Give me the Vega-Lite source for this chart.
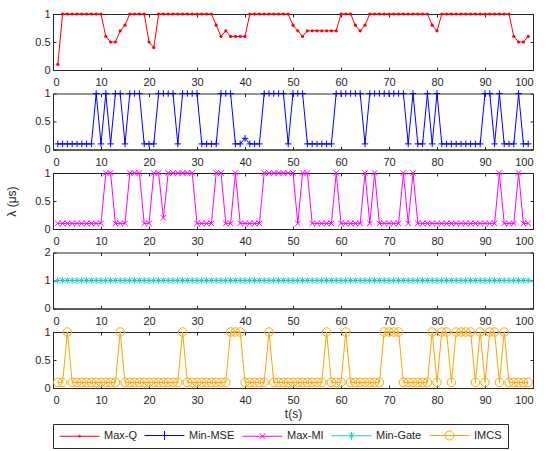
{
  "$schema": "https://vega.github.io/schema/vega-lite/v6.json",
  "padding": {"left": 5, "top": 7, "right": 8, "bottom": 2},
  "data": {
    "values": [
      {"t": 1, "Max-Q": 0.1, "Min-MSE": 0.1, "Max-MI": 0.1, "Min-Gate": 1, "IMCS": 0.1},
      {"t": 2, "Max-Q": 1, "Min-MSE": 0.1, "Max-MI": 0.1, "Min-Gate": 1, "IMCS": 0.1},
      {"t": 3, "Max-Q": 1, "Min-MSE": 0.1, "Max-MI": 0.1, "Min-Gate": 1, "IMCS": 1},
      {"t": 4, "Max-Q": 1, "Min-MSE": 0.1, "Max-MI": 0.1, "Min-Gate": 1, "IMCS": 0.1},
      {"t": 5, "Max-Q": 1, "Min-MSE": 0.1, "Max-MI": 0.1, "Min-Gate": 1, "IMCS": 0.1},
      {"t": 6, "Max-Q": 1, "Min-MSE": 0.1, "Max-MI": 0.1, "Min-Gate": 1, "IMCS": 0.1},
      {"t": 7, "Max-Q": 1, "Min-MSE": 0.1, "Max-MI": 0.1, "Min-Gate": 1, "IMCS": 0.1},
      {"t": 8, "Max-Q": 1, "Min-MSE": 0.1, "Max-MI": 0.1, "Min-Gate": 1, "IMCS": 0.1},
      {"t": 9, "Max-Q": 1, "Min-MSE": 1, "Max-MI": 0.1, "Min-Gate": 1, "IMCS": 0.1},
      {"t": 10, "Max-Q": 1, "Min-MSE": 0.1, "Max-MI": 0.1, "Min-Gate": 1, "IMCS": 0.1},
      {"t": 11, "Max-Q": 0.6, "Min-MSE": 1, "Max-MI": 1, "Min-Gate": 1, "IMCS": 0.1},
      {"t": 12, "Max-Q": 0.5, "Min-MSE": 0.1, "Max-MI": 1, "Min-Gate": 1, "IMCS": 0.1},
      {"t": 13, "Max-Q": 0.5, "Min-MSE": 1, "Max-MI": 0.1, "Min-Gate": 1, "IMCS": 0.1},
      {"t": 14, "Max-Q": 0.7, "Min-MSE": 1, "Max-MI": 0.1, "Min-Gate": 1, "IMCS": 1},
      {"t": 15, "Max-Q": 0.8, "Min-MSE": 0.1, "Max-MI": 0.1, "Min-Gate": 1, "IMCS": 0.1},
      {"t": 16, "Max-Q": 1, "Min-MSE": 1, "Max-MI": 1, "Min-Gate": 1, "IMCS": 0.1},
      {"t": 17, "Max-Q": 1, "Min-MSE": 1, "Max-MI": 1, "Min-Gate": 1, "IMCS": 0.1},
      {"t": 18, "Max-Q": 1, "Min-MSE": 1, "Max-MI": 1, "Min-Gate": 1, "IMCS": 0.1},
      {"t": 19, "Max-Q": 1, "Min-MSE": 0.1, "Max-MI": 0.1, "Min-Gate": 1, "IMCS": 0.1},
      {"t": 20, "Max-Q": 0.5, "Min-MSE": 0.1, "Max-MI": 0.1, "Min-Gate": 1, "IMCS": 0.1},
      {"t": 21, "Max-Q": 0.4, "Min-MSE": 0.1, "Max-MI": 1, "Min-Gate": 1, "IMCS": 0.1},
      {"t": 22, "Max-Q": 1, "Min-MSE": 1, "Max-MI": 1, "Min-Gate": 1, "IMCS": 0.1},
      {"t": 23, "Max-Q": 1, "Min-MSE": 1, "Max-MI": 0.2, "Min-Gate": 1, "IMCS": 0.1},
      {"t": 24, "Max-Q": 1, "Min-MSE": 1, "Max-MI": 1, "Min-Gate": 1, "IMCS": 0.1},
      {"t": 25, "Max-Q": 1, "Min-MSE": 1, "Max-MI": 1, "Min-Gate": 1, "IMCS": 0.1},
      {"t": 26, "Max-Q": 1, "Min-MSE": 0.1, "Max-MI": 1, "Min-Gate": 1, "IMCS": 0.1},
      {"t": 27, "Max-Q": 1, "Min-MSE": 1, "Max-MI": 1, "Min-Gate": 1, "IMCS": 1},
      {"t": 28, "Max-Q": 1, "Min-MSE": 1, "Max-MI": 1, "Min-Gate": 1, "IMCS": 0.1},
      {"t": 29, "Max-Q": 1, "Min-MSE": 1, "Max-MI": 1, "Min-Gate": 1, "IMCS": 0.1},
      {"t": 30, "Max-Q": 1, "Min-MSE": 1, "Max-MI": 0.1, "Min-Gate": 1, "IMCS": 0.1},
      {"t": 31, "Max-Q": 1, "Min-MSE": 0.1, "Max-MI": 0.1, "Min-Gate": 1, "IMCS": 0.1},
      {"t": 32, "Max-Q": 1, "Min-MSE": 0.1, "Max-MI": 0.1, "Min-Gate": 1, "IMCS": 0.1},
      {"t": 33, "Max-Q": 1, "Min-MSE": 0.1, "Max-MI": 0.1, "Min-Gate": 1, "IMCS": 0.1},
      {"t": 34, "Max-Q": 0.8, "Min-MSE": 0.1, "Max-MI": 1, "Min-Gate": 1, "IMCS": 0.1},
      {"t": 35, "Max-Q": 0.6, "Min-MSE": 1, "Max-MI": 1, "Min-Gate": 1, "IMCS": 0.1},
      {"t": 36, "Max-Q": 0.7, "Min-MSE": 1, "Max-MI": 0.1, "Min-Gate": 1, "IMCS": 0.1},
      {"t": 37, "Max-Q": 0.6, "Min-MSE": 1, "Max-MI": 0.1, "Min-Gate": 1, "IMCS": 1},
      {"t": 38, "Max-Q": 0.6, "Min-MSE": 0.1, "Max-MI": 1, "Min-Gate": 1, "IMCS": 1},
      {"t": 39, "Max-Q": 0.6, "Min-MSE": 0.1, "Max-MI": 0.1, "Min-Gate": 1, "IMCS": 1},
      {"t": 40, "Max-Q": 0.6, "Min-MSE": 0.2, "Max-MI": 0.1, "Min-Gate": 1, "IMCS": 0.1},
      {"t": 41, "Max-Q": 1, "Min-MSE": 0.1, "Max-MI": 0.1, "Min-Gate": 1, "IMCS": 0.1},
      {"t": 42, "Max-Q": 1, "Min-MSE": 0.1, "Max-MI": 0.1, "Min-Gate": 1, "IMCS": 0.1},
      {"t": 43, "Max-Q": 1, "Min-MSE": 0.1, "Max-MI": 0.1, "Min-Gate": 1, "IMCS": 0.1},
      {"t": 44, "Max-Q": 1, "Min-MSE": 1, "Max-MI": 1, "Min-Gate": 1, "IMCS": 0.1},
      {"t": 45, "Max-Q": 1, "Min-MSE": 1, "Max-MI": 1, "Min-Gate": 1, "IMCS": 1},
      {"t": 46, "Max-Q": 1, "Min-MSE": 1, "Max-MI": 1, "Min-Gate": 1, "IMCS": 0.1},
      {"t": 47, "Max-Q": 1, "Min-MSE": 1, "Max-MI": 1, "Min-Gate": 1, "IMCS": 0.1},
      {"t": 48, "Max-Q": 1, "Min-MSE": 1, "Max-MI": 1, "Min-Gate": 1, "IMCS": 0.1},
      {"t": 49, "Max-Q": 1, "Min-MSE": 0.1, "Max-MI": 1, "Min-Gate": 1, "IMCS": 0.1},
      {"t": 50, "Max-Q": 0.8, "Min-MSE": 1, "Max-MI": 1, "Min-Gate": 1, "IMCS": 0.1},
      {"t": 51, "Max-Q": 0.7, "Min-MSE": 1, "Max-MI": 0.1, "Min-Gate": 1, "IMCS": 0.1},
      {"t": 52, "Max-Q": 0.6, "Min-MSE": 1, "Max-MI": 1, "Min-Gate": 1, "IMCS": 0.1},
      {"t": 53, "Max-Q": 0.7, "Min-MSE": 0.1, "Max-MI": 1, "Min-Gate": 1, "IMCS": 0.1},
      {"t": 54, "Max-Q": 0.7, "Min-MSE": 0.1, "Max-MI": 0.1, "Min-Gate": 1, "IMCS": 0.1},
      {"t": 55, "Max-Q": 0.7, "Min-MSE": 0.1, "Max-MI": 0.1, "Min-Gate": 1, "IMCS": 0.1},
      {"t": 56, "Max-Q": 0.7, "Min-MSE": 0.1, "Max-MI": 0.1, "Min-Gate": 1, "IMCS": 0.1},
      {"t": 57, "Max-Q": 0.7, "Min-MSE": 0.1, "Max-MI": 0.1, "Min-Gate": 1, "IMCS": 1},
      {"t": 58, "Max-Q": 0.7, "Min-MSE": 0.1, "Max-MI": 0.1, "Min-Gate": 1, "IMCS": 0.1},
      {"t": 59, "Max-Q": 0.7, "Min-MSE": 1, "Max-MI": 1, "Min-Gate": 1, "IMCS": 0.1},
      {"t": 60, "Max-Q": 1, "Min-MSE": 1, "Max-MI": 0.1, "Min-Gate": 1, "IMCS": 0.1},
      {"t": 61, "Max-Q": 1, "Min-MSE": 1, "Max-MI": 0.1, "Min-Gate": 1, "IMCS": 1},
      {"t": 62, "Max-Q": 1, "Min-MSE": 1, "Max-MI": 0.1, "Min-Gate": 1, "IMCS": 0.1},
      {"t": 63, "Max-Q": 0.8, "Min-MSE": 1, "Max-MI": 0.1, "Min-Gate": 1, "IMCS": 0.1},
      {"t": 64, "Max-Q": 0.7, "Min-MSE": 1, "Max-MI": 0.1, "Min-Gate": 1, "IMCS": 0.1},
      {"t": 65, "Max-Q": 0.8, "Min-MSE": 0.1, "Max-MI": 1, "Min-Gate": 1, "IMCS": 0.1},
      {"t": 66, "Max-Q": 1, "Min-MSE": 1, "Max-MI": 0.1, "Min-Gate": 1, "IMCS": 0.1},
      {"t": 67, "Max-Q": 1, "Min-MSE": 1, "Max-MI": 1, "Min-Gate": 1, "IMCS": 0.1},
      {"t": 68, "Max-Q": 1, "Min-MSE": 1, "Max-MI": 0.1, "Min-Gate": 1, "IMCS": 0.1},
      {"t": 69, "Max-Q": 1, "Min-MSE": 1, "Max-MI": 0.1, "Min-Gate": 1, "IMCS": 1},
      {"t": 70, "Max-Q": 1, "Min-MSE": 1, "Max-MI": 0.1, "Min-Gate": 1, "IMCS": 1},
      {"t": 71, "Max-Q": 1, "Min-MSE": 1, "Max-MI": 0.1, "Min-Gate": 1, "IMCS": 1},
      {"t": 72, "Max-Q": 1, "Min-MSE": 1, "Max-MI": 0.1, "Min-Gate": 1, "IMCS": 1},
      {"t": 73, "Max-Q": 1, "Min-MSE": 1, "Max-MI": 1, "Min-Gate": 1, "IMCS": 0.1},
      {"t": 74, "Max-Q": 1, "Min-MSE": 0.1, "Max-MI": 0.1, "Min-Gate": 1, "IMCS": 0.1},
      {"t": 75, "Max-Q": 1, "Min-MSE": 1, "Max-MI": 1, "Min-Gate": 1, "IMCS": 0.1},
      {"t": 76, "Max-Q": 1, "Min-MSE": 0.1, "Max-MI": 0.1, "Min-Gate": 1, "IMCS": 0.1},
      {"t": 77, "Max-Q": 1, "Min-MSE": 0.1, "Max-MI": 0.1, "Min-Gate": 1, "IMCS": 0.1},
      {"t": 78, "Max-Q": 1, "Min-MSE": 1, "Max-MI": 0.1, "Min-Gate": 1, "IMCS": 0.1},
      {"t": 79, "Max-Q": 0.8, "Min-MSE": 0.1, "Max-MI": 0.1, "Min-Gate": 1, "IMCS": 1},
      {"t": 80, "Max-Q": 0.7, "Min-MSE": 1, "Max-MI": 0.1, "Min-Gate": 1, "IMCS": 0.1},
      {"t": 81, "Max-Q": 1, "Min-MSE": 0.1, "Max-MI": 0.1, "Min-Gate": 1, "IMCS": 1},
      {"t": 82, "Max-Q": 1, "Min-MSE": 0.1, "Max-MI": 0.1, "Min-Gate": 1, "IMCS": 1},
      {"t": 83, "Max-Q": 1, "Min-MSE": 0.1, "Max-MI": 0.1, "Min-Gate": 1, "IMCS": 0.1},
      {"t": 84, "Max-Q": 1, "Min-MSE": 0.1, "Max-MI": 0.1, "Min-Gate": 1, "IMCS": 1},
      {"t": 85, "Max-Q": 1, "Min-MSE": 0.1, "Max-MI": 0.1, "Min-Gate": 1, "IMCS": 1},
      {"t": 86, "Max-Q": 1, "Min-MSE": 0.1, "Max-MI": 0.1, "Min-Gate": 1, "IMCS": 1},
      {"t": 87, "Max-Q": 1, "Min-MSE": 0.1, "Max-MI": 0.1, "Min-Gate": 1, "IMCS": 1},
      {"t": 88, "Max-Q": 1, "Min-MSE": 0.1, "Max-MI": 0.1, "Min-Gate": 1, "IMCS": 0.1},
      {"t": 89, "Max-Q": 1, "Min-MSE": 0.1, "Max-MI": 0.1, "Min-Gate": 1, "IMCS": 1},
      {"t": 90, "Max-Q": 1, "Min-MSE": 1, "Max-MI": 0.1, "Min-Gate": 1, "IMCS": 0.1},
      {"t": 91, "Max-Q": 1, "Min-MSE": 1, "Max-MI": 0.1, "Min-Gate": 1, "IMCS": 1},
      {"t": 92, "Max-Q": 1, "Min-MSE": 0.1, "Max-MI": 0.1, "Min-Gate": 1, "IMCS": 1},
      {"t": 93, "Max-Q": 1, "Min-MSE": 1, "Max-MI": 1, "Min-Gate": 1, "IMCS": 0.1},
      {"t": 94, "Max-Q": 1, "Min-MSE": 0.1, "Max-MI": 0.1, "Min-Gate": 1, "IMCS": 1},
      {"t": 95, "Max-Q": 1, "Min-MSE": 0.1, "Max-MI": 0.1, "Min-Gate": 1, "IMCS": 0.1},
      {"t": 96, "Max-Q": 0.6, "Min-MSE": 0.1, "Max-MI": 0.1, "Min-Gate": 1, "IMCS": 0.1},
      {"t": 97, "Max-Q": 0.5, "Min-MSE": 1, "Max-MI": 1, "Min-Gate": 1, "IMCS": 0.1},
      {"t": 98, "Max-Q": 0.5, "Min-MSE": 0.1, "Max-MI": 0.1, "Min-Gate": 1, "IMCS": 0.1},
      {"t": 99, "Max-Q": 0.6, "Min-MSE": 0.1, "Max-MI": 0.1, "Min-Gate": 1, "IMCS": 0.1}
    ]
  },
  "bounds": "flush",
  "spacing": 23.5,
  "vconcat": [
    {
      "width": 480,
      "height": 56,
      "transform": [{"fold": ["Max-Q"], "as": ["series", "v"]}],
      "encoding": {
        "x": {"field": "t", "type": "quantitative", "scale": {"domain": [0, 100], "nice": false}, "axis": {"values": [0, 10, 20, 30, 40, 50, 60, 70, 80, 90, 100], "title": null}},
        "y": {"field": "v", "type": "quantitative", "scale": {"domain": [0, 1], "nice": false}, "axis": {"values": [0, 0.5, 1], "format": "~g", "title": null}},
        "color": {"field": "series", "type": "nominal", "scale": {"domain": ["Max-Q", "Min-MSE", "Max-MI", "Min-Gate", "IMCS"], "range": ["#ff0000", "#0000ff", "#ff00ff", "#20c8c8", "#ffa500"]}}
      },
      "layer": [
        {"mark": {"type": "line", "strokeWidth": 1}},
        {
          "mark": {"type": "point", "shape": "circle", "filled": true, "size": 10, "opacity": 1},
          "encoding": {
            "x": {"field": "t", "type": "quantitative", "scale": {"domain": [0, 100], "nice": false}, "axis": {"orient": "top", "labels": false, "domain": false, "values": [0, 10, 20, 30, 40, 50, 60, 70, 80, 90, 100], "title": null}},
            "y": {"field": "v", "type": "quantitative", "scale": {"domain": [0, 1], "nice": false}, "axis": {"orient": "right", "labels": false, "domain": false, "values": [0, 0.5, 1], "title": null}}
          }
        }
      ],
      "resolve": {"axis": {"x": "independent", "y": "independent"}}
    },
    {
      "width": 480,
      "height": 56,
      "transform": [{"fold": ["Min-MSE"], "as": ["series", "v"]}],
      "encoding": {
        "x": {"field": "t", "type": "quantitative", "scale": {"domain": [0, 100], "nice": false}, "axis": {"values": [0, 10, 20, 30, 40, 50, 60, 70, 80, 90, 100], "title": null}},
        "y": {"field": "v", "type": "quantitative", "scale": {"domain": [0, 1], "nice": false}, "axis": {"values": [0, 0.5, 1], "format": "~g", "title": null}},
        "color": {"field": "series", "type": "nominal", "scale": {"domain": ["Max-Q", "Min-MSE", "Max-MI", "Min-Gate", "IMCS"], "range": ["#ff0000", "#0000ff", "#ff00ff", "#20c8c8", "#ffa500"]}}
      },
      "layer": [
        {"mark": {"type": "line", "strokeWidth": 1}},
        {
          "mark": {"type": "point", "shape": "M-1,0L1,0M0,-1L0,1", "filled": false, "size": 42, "strokeWidth": 1, "opacity": 1},
          "encoding": {
            "x": {"field": "t", "type": "quantitative", "scale": {"domain": [0, 100], "nice": false}, "axis": {"orient": "top", "labels": false, "domain": false, "values": [0, 10, 20, 30, 40, 50, 60, 70, 80, 90, 100], "title": null}},
            "y": {"field": "v", "type": "quantitative", "scale": {"domain": [0, 1], "nice": false}, "axis": {"orient": "right", "labels": false, "domain": false, "values": [0, 0.5, 1], "title": null}}
          }
        }
      ],
      "resolve": {"axis": {"x": "independent", "y": "independent"}}
    },
    {
      "width": 480,
      "height": 56,
      "transform": [{"fold": ["Max-MI"], "as": ["series", "v"]}],
      "encoding": {
        "x": {"field": "t", "type": "quantitative", "scale": {"domain": [0, 100], "nice": false}, "axis": {"values": [0, 10, 20, 30, 40, 50, 60, 70, 80, 90, 100], "title": null}},
        "y": {"field": "v", "type": "quantitative", "scale": {"domain": [0, 1], "nice": false}, "axis": {"values": [0, 0.5, 1], "format": "~g", "title": "λ (μs)", "titlePadding": 16}},
        "color": {"field": "series", "type": "nominal", "scale": {"domain": ["Max-Q", "Min-MSE", "Max-MI", "Min-Gate", "IMCS"], "range": ["#ff0000", "#0000ff", "#ff00ff", "#20c8c8", "#ffa500"]}}
      },
      "layer": [
        {"mark": {"type": "line", "strokeWidth": 1}},
        {
          "mark": {"type": "point", "shape": "M-1,-1L1,1M-1,1L1,-1", "filled": false, "size": 30, "strokeWidth": 1, "opacity": 1},
          "encoding": {
            "x": {"field": "t", "type": "quantitative", "scale": {"domain": [0, 100], "nice": false}, "axis": {"orient": "top", "labels": false, "domain": false, "values": [0, 10, 20, 30, 40, 50, 60, 70, 80, 90, 100], "title": null}},
            "y": {"field": "v", "type": "quantitative", "scale": {"domain": [0, 1], "nice": false}, "axis": {"orient": "right", "labels": false, "domain": false, "values": [0, 0.5, 1], "title": null}}
          }
        }
      ],
      "resolve": {"axis": {"x": "independent", "y": "independent"}}
    },
    {
      "width": 480,
      "height": 56,
      "transform": [{"fold": ["Min-Gate"], "as": ["series", "v"]}],
      "encoding": {
        "x": {"field": "t", "type": "quantitative", "scale": {"domain": [0, 100], "nice": false}, "axis": {"values": [0, 10, 20, 30, 40, 50, 60, 70, 80, 90, 100], "title": null}},
        "y": {"field": "v", "type": "quantitative", "scale": {"domain": [0, 2], "nice": false}, "axis": {"values": [0, 1, 2], "format": "~g", "title": null}},
        "color": {"field": "series", "type": "nominal", "scale": {"domain": ["Max-Q", "Min-MSE", "Max-MI", "Min-Gate", "IMCS"], "range": ["#ff0000", "#0000ff", "#ff00ff", "#20c8c8", "#ffa500"]}}
      },
      "layer": [
        {"mark": {"type": "line", "strokeWidth": 1}},
        {
          "mark": {"type": "point", "shape": "M-1,0L1,0M0,-1L0,1M-0.7,-0.7L0.7,0.7M-0.7,0.7L0.7,-0.7", "filled": false, "size": 42, "strokeWidth": 1, "opacity": 1},
          "encoding": {
            "x": {"field": "t", "type": "quantitative", "scale": {"domain": [0, 100], "nice": false}, "axis": {"orient": "top", "labels": false, "domain": false, "values": [0, 10, 20, 30, 40, 50, 60, 70, 80, 90, 100], "title": null}},
            "y": {"field": "v", "type": "quantitative", "scale": {"domain": [0, 2], "nice": false}, "axis": {"orient": "right", "labels": false, "domain": false, "values": [0, 1, 2], "title": null}}
          }
        }
      ],
      "resolve": {"axis": {"x": "independent", "y": "independent"}}
    },
    {
      "width": 480,
      "height": 56,
      "transform": [{"fold": ["IMCS"], "as": ["series", "v"]}],
      "encoding": {
        "x": {"field": "t", "type": "quantitative", "scale": {"domain": [0, 100], "nice": false}, "axis": {"values": [0, 10, 20, 30, 40, 50, 60, 70, 80, 90, 100], "title": "t(s)", "titlePadding": 3}},
        "y": {"field": "v", "type": "quantitative", "scale": {"domain": [0, 1], "nice": false}, "axis": {"values": [0, 0.5, 1], "format": "~g", "title": null}},
        "color": {
          "field": "series",
          "type": "nominal",
          "scale": {"domain": ["Max-Q", "Min-MSE", "Max-MI", "Min-Gate", "IMCS"], "range": ["#ff0000", "#0000ff", "#ff00ff", "#20c8c8", "#ffa500"]},
          "legend": {
            "encode": {
              "symbols": {
                "update": {
                  "shape": {"signal": "datum.value === 'Max-Q' ? 'M-1,0L7,0M3.2,0A0.2,0.2,0,1,1,2.8,0A0.2,0.2,0,1,1,3.2,0' : datum.value === 'Min-MSE' ? 'M-1,0L7,0M3,-0.9L3,0.9' : datum.value === 'Max-MI' ? 'M-1,0L7,0M2.4,-0.6L3.6,0.6M2.4,0.6L3.6,-0.6' : datum.value === 'Min-Gate' ? 'M-1,0L7,0M3,-0.8L3,0.8M2.45,-0.55L3.55,0.55M2.45,0.55L3.55,-0.55' : 'M-1,0L7,0M3.9,0A0.9,0.9,0,1,1,2.1,0A0.9,0.9,0,1,1,3.9,0'"},
                  "fillOpacity": {"value": 0},
                  "strokeOpacity": {"value": 1},
                  "opacity": {"value": 1}
                }
              }
            }
          }
        }
      },
      "layer": [
        {"mark": {"type": "line", "strokeWidth": 1}},
        {
          "mark": {"type": "point", "shape": "circle", "filled": false, "size": 72, "strokeWidth": 1, "opacity": 1},
          "encoding": {
            "x": {"field": "t", "type": "quantitative", "scale": {"domain": [0, 100], "nice": false}, "axis": {"orient": "top", "labels": false, "domain": false, "values": [0, 10, 20, 30, 40, 50, 60, 70, 80, 90, 100], "title": null}},
            "y": {"field": "v", "type": "quantitative", "scale": {"domain": [0, 1], "nice": false}, "axis": {"orient": "right", "labels": false, "domain": false, "values": [0, 0.5, 1], "title": null}}
          }
        }
      ],
      "resolve": {"axis": {"x": "independent", "y": "independent"}}
    }
  ],
  "resolve": {"scale": {"color": "shared"}, "legend": {"color": "shared"}},
  "config": {
    "font": "Liberation Sans",
    "view": {"stroke": "#262626", "strokeWidth": 1},
    "axis": {
      "grid": false,
      "domainColor": "#262626",
      "tickColor": "#262626",
      "labelColor": "#262626",
      "titleColor": "#262626",
      "labelFontSize": 11,
      "titleFontSize": 12,
      "titleFontWeight": "normal",
      "tickSize": -3,
      "labelPadding": 6
    },
    "axisX": {"labelPadding": 9.5},
    "legend": {
      "title": null,
      "orient": "bottom",
      "offset": 4,
      "direction": "horizontal",
      "columns": 5,
      "strokeColor": "#262626",
      "fillColor": "white",
      "padding": 6,
      "cornerRadius": 0,
      "symbolSize": 100,
      "symbolStrokeWidth": 1,
      "symbolType": "M-1,0L7,0",
      "labelFontSize": 11,
      "labelColor": "#262626",
      "labelOffset": 34,
      "columnPadding": 5
    }
  }
}
